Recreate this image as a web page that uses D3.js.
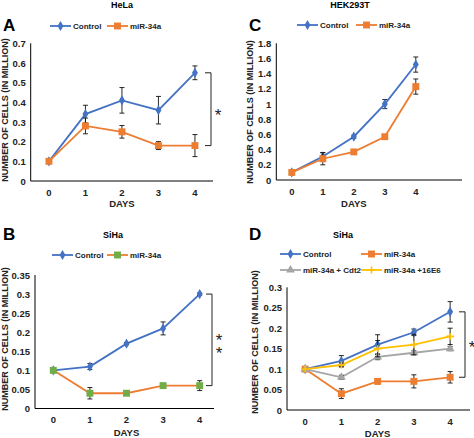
<!DOCTYPE html>
<html>
<head>
<meta charset="utf-8">
<script src="https://cdn.jsdelivr.net/npm/d3@7"></script>
<style>
  body { margin: 0; background: #fff; }
  svg { display: block; font-family: "Liberation Sans", Arial, sans-serif; font-weight: bold; }
</style>
</head>
<body>
<svg width="474" height="438"></svg>
<script>
// days on the x axis
var days = ['0', '1', '2', '3', '4'];

// A - HeLa
var helaControl = [0.1, 0.34, 0.41, 0.36, 0.55];
var helaControlErr = [0, 0.045, 0.065, 0.07, 0.035];
var helaMir = [0.1, 0.28, 0.25, 0.18, 0.18];
var helaMirErr = [0, 0.04, 0.032, 0.02, 0.056];
var helaTicks = [0, 0.1, 0.2, 0.3, 0.4, 0.5, 0.6, 0.7];

// C - HEK293T
var hekControl = [0.1, 0.31, 0.57, 1.0, 1.52];
var hekControlErr = [0, 0.05, 0.02, 0.06, 0.1];
var hekMir = [0.1, 0.28, 0.37, 0.57, 1.23];
var hekMirErr = [0, 0.08, 0.02, 0.02, 0.1];
var hekTicks = [0, 0.2, 0.4, 0.6, 0.8, 1, 1.2, 1.4, 1.6, 1.8];

// B - SiHa
var sihaControl = [0.1, 0.11, 0.17, 0.21, 0.3];
var sihaControlErr = [0, 0.008, 0.003, 0.017, 0.003];
var sihaMir = [0.1, 0.04, 0.04, 0.06, 0.06];
var sihaMirErr = [0, 0.015, 0.003, 0.005, 0.013];
var sihaTicks = [0, 0.05, 0.1, 0.15, 0.2, 0.25, 0.3, 0.35];

// D - SiHa rescue
var rescueControl = [0.1, 0.12, 0.16, 0.19, 0.24];
var rescueControlErr = [0, 0.013, 0.024, 0.008, 0.025];
var rescueMir = [0.1, 0.04, 0.07, 0.07, 0.08];
var rescueMirErr = [0, 0.012, 0.006, 0.016, 0.014];
var rescueCdt2 = [0.1, 0.08, 0.13, 0.14, 0.15];
var rescueCdt2Err = [0, 0.005, 0.007, 0.005, 0.005];
var rescue16E6 = [0.1, 0.11, 0.15, 0.16, 0.18];
var rescue16E6Err = [0, 0.005, 0.02, 0.025, 0.02];
var rescueTicks = [0, 0.05, 0.1, 0.15, 0.2, 0.25, 0.3];

var blue = '#4472c4', orange = '#ed7d31', grey = '#a5a5a5', gold = '#ffc000', green = '#70ad47';

var svg = d3.select('svg');
var fmt = function(v) { return String(+v.toFixed(2)); };

function marker(g, shape, x, y, fill) {
  if (shape === 'cross') {
    g.append('path')
      .attr('d', 'M' + (x - 4) + ',' + y + 'H' + (x + 4) + 'M' + x + ',' + (y - 3.5) + 'V' + (y + 3.5))
      .attr('stroke', fill).attr('stroke-width', 1.6);
    return;
  }
  var sym = { diamond: d3.symbolDiamond, square: d3.symbolSquare, triangle: d3.symbolTriangle }[shape];
  var size = { diamond: 30, square: 48, triangle: 34 }[shape];
  g.append('path')
    .attr('d', d3.symbol().type(sym).size(size)())
    .attr('transform', 'translate(' + x + ',' + y + ')')
    .attr('fill', fill);
}

function drawPanel(p) {
  var g = svg.append('g');
  var x = d3.scaleBand().domain(days).range([p.x0, p.x0 + p.band * days.length]);
  var y = d3.scaleLinear().domain([0, p.ticks[p.ticks.length - 1]]).range([p.y0, p.y1]);

  // letter and title
  g.append('text').attr('x', p.letter[0]).attr('y', p.letter[1])
    .style('font-size', '17px').text(p.name);
  g.append('text').attr('x', p.title[0]).attr('y', p.title[1])
    .attr('text-anchor', 'middle').style('font-size', '9px').text(p.cell);

  // y axis
  var yAxis = d3.axisLeft(y).tickValues(p.ticks).tickSize(0).tickPadding(5).tickFormat(fmt);
  g.append('g').attr('transform', 'translate(' + p.x0 + ',0)').call(yAxis)
    .call(function(a) {
      a.select('.domain').attr('stroke', '#000').attr('d', 'M0,' + p.y0 + 'V' + p.y1);
      a.selectAll('text').style('font-size', '9.5px').style('font-family', null).attr('fill', '#222');
    });

  // x axis
  var xAxis = d3.axisBottom(x).tickSize(0).tickPadding(8);
  g.append('g').attr('transform', 'translate(0,' + p.y0 + ')').call(xAxis)
    .call(function(a) {
      a.select('.domain').attr('stroke', '#000').attr('d', 'M' + p.x0 + ',0H' + p.xEnd);
      a.selectAll('text').style('font-size', '9.5px').style('font-family', null).attr('fill', '#222');
    });

  g.append('text').attr('x', (x('0') + x('4') + x.bandwidth()) / 2).attr('y', p.daysY)
    .attr('text-anchor', 'middle').style('font-size', '9.5px').attr('fill', '#222').text('DAYS');

  g.append('text')
    .attr('transform', 'translate(' + p.ylab[0] + ',' + p.ylab[1] + ') rotate(-90)')
    .attr('text-anchor', 'middle').style('font-size', '9px').attr('fill', '#222')
    .text('NUMBER OF CELLS (IN MILLION)');

  var cx = function(d, i) { return x(days[i]) + x.bandwidth() / 2; };
  var line = d3.line().x(cx).y(function(d) { return y(d); });

  p.series.forEach(function(s) {
    g.append('path').datum(s.values).attr('d', line)
      .attr('fill', 'none').attr('stroke', s.color).attr('stroke-width', 1.8);
  });
  p.series.forEach(function(s) {
    s.values.forEach(function(v, i) {
      var e = s.err[i];
      if (e > 0) {
        var xx = cx(v, i), t = y(v + e), b = y(v - e);
        g.append('path')
          .attr('d', 'M' + xx + ',' + t + 'V' + b + 'M' + (xx - 2.5) + ',' + t + 'H' + (xx + 2.5) +
            'M' + (xx - 2.5) + ',' + b + 'H' + (xx + 2.5))
          .attr('stroke', '#111').attr('stroke-width', 0.9).attr('fill', 'none');
      }
      marker(g, s.shape, cx(v, i), y(v), s.marker || s.color);
    });
  });

  // legend
  p.series.forEach(function(s, i) {
    var lx = p.legend[i][0], ly = p.legend[i][1];
    g.append('line').attr('x1', lx).attr('x2', lx + 21).attr('y1', ly).attr('y2', ly)
      .attr('stroke', s.color).attr('stroke-width', 1.8);
    marker(g, s.shape, lx + 10.5, ly, s.marker || s.color);
    g.append('text').attr('x', lx + 23).attr('y', ly + 3)
      .style('font-size', '8px').attr('fill', '#222').text(s.label);
  });

  // significance bracket
  if (p.bracket) {
    var bt = y(p.bracket.from), bb = y(p.bracket.to), bx = p.bracket.x;
    g.append('path')
      .attr('d', 'M' + (bx - 6) + ',' + bt + 'H' + bx + 'V' + bb + 'H' + (bx - 6))
      .attr('stroke', '#222').attr('stroke-width', 1).attr('fill', 'none');
    var st = g.append('text').attr('text-anchor', 'middle')
      .style('font-size', '17px').style('font-weight', 'normal').attr('fill', '#222');
    if (p.bracket.stars > 1) {
      // stacked stars as one vertical text
      st.attr('x', bx + 7).attr('y', p.bracket.starY)
        .style('writing-mode', 'vertical-rl').style('text-orientation', 'upright')
        .style('letter-spacing', '-6px')
        .text(d3.range(p.bracket.stars).map(function() { return '*'; }).join(''));
    } else {
      st.attr('x', bx + 7).attr('y', p.bracket.starY).text('*');
    }
  }
}

drawPanel({
  name: 'A', cell: 'HeLa', letter: [3, 31], title: [122, 8],
  x0: 30.7, band: 36.5, xEnd: 213, y0: 181, y1: 43.3, daysY: 207, ylab: [8, 110],
  ticks: helaTicks,
  legend: [[50, 26], [107, 26]],
  series: [
    { label: 'Control', values: helaControl, err: helaControlErr, color: blue, shape: 'diamond' },
    { label: 'miR-34a', values: helaMir, err: helaMirErr, color: orange, shape: 'square' }
  ],
  bracket: { x: 211, from: 0.55, to: 0.18, stars: 1, starY: 121 }
});

drawPanel({
  name: 'C', cell: 'HEK293T', letter: [249, 31], title: [350, 8],
  x0: 276.3, band: 31, xEnd: 462, y0: 180, y1: 43.3, daysY: 207, ylab: [253, 112],
  ticks: hekTicks,
  legend: [[297, 25], [356, 25]],
  series: [
    { label: 'Control', values: hekControl, err: hekControlErr, color: blue, shape: 'diamond' },
    { label: 'miR-34a', values: hekMir, err: hekMirErr, color: orange, shape: 'square' }
  ]
});

drawPanel({
  name: 'B', cell: 'SiHa', letter: [3, 240], title: [113, 238],
  x0: 35, band: 36.6, xEnd: 214, y0: 408.5, y1: 275, daysY: 436, ylab: [8, 339],
  ticks: sihaTicks,
  legend: [[52, 255], [107, 255]],
  series: [
    { label: 'Control', values: sihaControl, err: sihaControlErr, color: blue, shape: 'diamond' },
    { label: 'miR-34a', values: sihaMir, err: sihaMirErr, color: orange, shape: 'square', marker: green }
  ],
  bracket: { x: 212, from: 0.3, to: 0.06, stars: 2, starY: 344 }
});

drawPanel({
  name: 'D', cell: 'SiHa', letter: [249, 240], title: [343, 238],
  x0: 287, band: 36.25, xEnd: 470, y0: 410, y1: 287.3, daysY: 437, ylab: [258, 342],
  ticks: rescueTicks,
  legend: [[280, 254], [361, 254], [280, 270], [361, 270]],
  series: [
    { label: 'Control', values: rescueControl, err: rescueControlErr, color: blue, shape: 'diamond' },
    { label: 'miR-34a', values: rescueMir, err: rescueMirErr, color: orange, shape: 'square' },
    { label: 'miR-34a + Cdt2', values: rescueCdt2, err: rescueCdt2Err, color: grey, shape: 'triangle' },
    { label: 'miR-34a +16E6', values: rescue16E6, err: rescue16E6Err, color: gold, shape: 'cross' }
  ],
  bracket: { x: 465, from: 0.24, to: 0.08, stars: 1, starY: 353 }
});
</script>
</body>
</html>
